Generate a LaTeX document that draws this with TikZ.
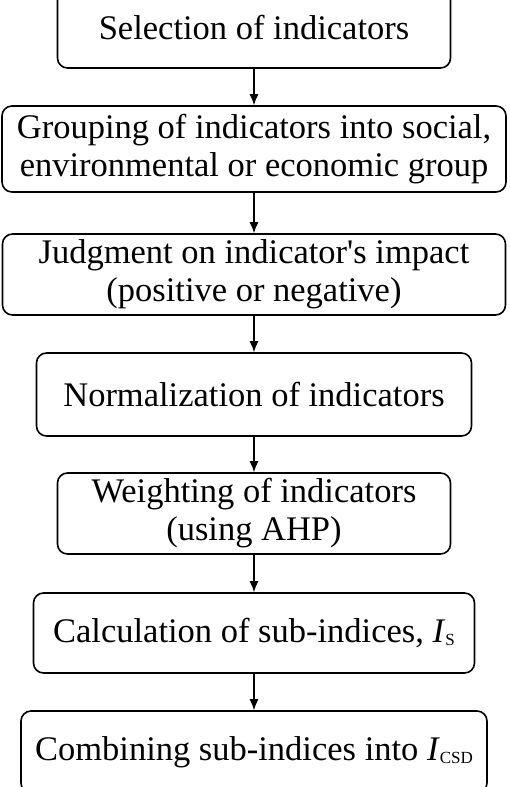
\documentclass[tikz,border=0pt]{standalone}
\usepackage{fontspec}
\setmainfont{Liberation Serif}
\usepackage{tikz}
\usetikzlibrary{arrows.meta}

\newcommand{\subidx}[1]{\raisebox{-3pt}{\fontsize{17}{17}\selectfont #1}}

\begin{document}
\begin{tikzpicture}[
    x=1pt, y=-1pt,
    >={Latex[length=11pt, width=9pt]},
    box style/.style={draw, rounded corners=10pt, line width=1.6pt, align=center, inner sep=0pt, font=\fontsize{34.5}{38}\selectfont},
    arrow style/.style={line width=1.3pt, ->}
]

% Fix the page size
\useasboundingbox (0,0) rectangle (509,787);
\clip (0,0) rectangle (509,787);

% Draw the boxes
\node[box style, minimum width=393pt, minimum height=80pt] (select) at (254,28) {Selection of indicators};
\node[box style, minimum width=504pt, minimum height=86pt] (group) at (254,149) {Grouping of indicators into social,\\environmental or economic group};
\node[box style, minimum width=503pt, minimum height=81pt] (judge) at (254,274.5) {Judgment on indicator\textquotesingle s impact\\(positive or negative)};
\node[box style, minimum width=435pt, minimum height=83pt] (norm) at (254,394.5) {Normalization of indicators};
\node[box style, minimum width=393pt, minimum height=81pt] (weight) at (254,513.5) {Weighting of indicators\\(using AHP)};
\node[box style, minimum width=441pt, minimum height=80pt] (calc) at (254,633) {Calculation of sub-indices, \textit{I}\subidx{S}};
\node[box style, minimum width=466pt, minimum height=82pt] (comb) at (254,752) {Combining sub-indices into \textit{I}\subidx{CSD}};

% Draw the arrows
\foreach \a/\b in {select/group, group/judge, judge/norm, norm/weight, weight/calc, calc/comb} {
    \draw[arrow style] (\a) -- (\b);
}
\end{tikzpicture}
\end{document}
